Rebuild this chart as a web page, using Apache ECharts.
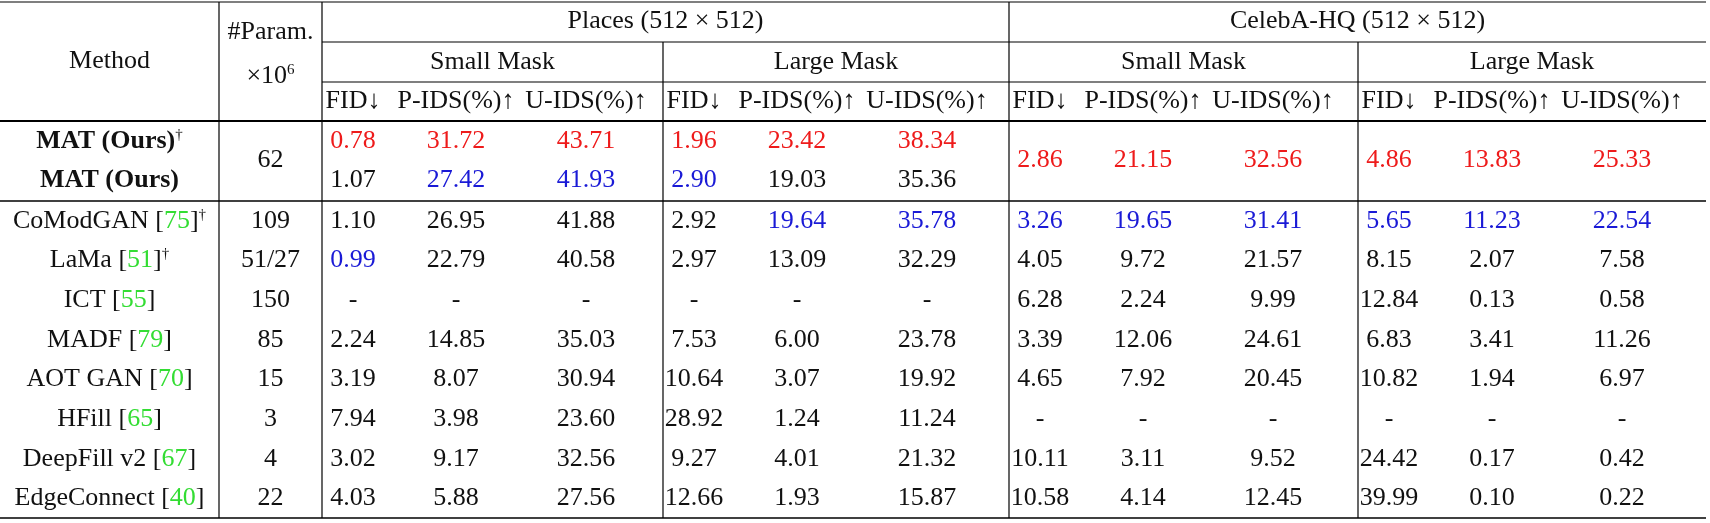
<!DOCTYPE html>
<html>
<head>
<meta charset="utf-8">
<script src="https://cdn.jsdelivr.net/npm/echarts@6/dist/echarts.min.js"></script>
<style>
  html, body { margin: 0; padding: 0; background: #fff; }
  #chart { width: 1710px; height: 523px; }
</style>
</head>
<body>
<div id="chart"></div>
<script>
// table data
const methods = ['MAT (Ours)', 'MAT (Ours)', 'CoModGAN', 'LaMa', 'ICT', 'MADF', 'AOT GAN', 'HFill', 'DeepFill v2', 'EdgeConnect'];
const refs = ['', '', '75', '51', '55', '79', '70', '65', '67', '40'];
const dagger = [true, false, true, true, false, false, false, false, false, false];
const params = ['62', '', '109', '51/27', '150', '85', '15', '3', '4', '22'];
const metrics = ['FID↓', 'P-IDS(%)↑', 'U-IDS(%)↑'];
const datasets = ['Places (512 × 512)', 'CelebA-HQ (512 × 512)'];
const masks = ['Small Mask', 'Large Mask'];

const placesSmall = [
  ['0.78', '31.72', '43.71'], ['1.07', '27.42', '41.93'], ['1.10', '26.95', '41.88'], ['0.99', '22.79', '40.58'],
  ['-', '-', '-'], ['2.24', '14.85', '35.03'], ['3.19', '8.07', '30.94'], ['7.94', '3.98', '23.60'],
  ['3.02', '9.17', '32.56'], ['4.03', '5.88', '27.56']
];
const placesLarge = [
  ['1.96', '23.42', '38.34'], ['2.90', '19.03', '35.36'], ['2.92', '19.64', '35.78'], ['2.97', '13.09', '32.29'],
  ['-', '-', '-'], ['7.53', '6.00', '23.78'], ['10.64', '3.07', '19.92'], ['28.92', '1.24', '11.24'],
  ['9.27', '4.01', '21.32'], ['12.66', '1.93', '15.87']
];
const celebaSmall = [
  ['2.86', '21.15', '32.56'], null, ['3.26', '19.65', '31.41'], ['4.05', '9.72', '21.57'],
  ['6.28', '2.24', '9.99'], ['3.39', '12.06', '24.61'], ['4.65', '7.92', '20.45'], ['-', '-', '-'],
  ['10.11', '3.11', '9.52'], ['10.58', '4.14', '12.45']
];
const celebaLarge = [
  ['4.86', '13.83', '25.33'], null, ['5.65', '11.23', '22.54'], ['8.15', '2.07', '7.58'],
  ['12.84', '0.13', '0.58'], ['6.83', '3.41', '11.26'], ['10.82', '1.94', '6.97'], ['-', '-', '-'],
  ['24.42', '0.17', '0.42'], ['39.99', '0.10', '0.22']
];
// 1 = best (red), 2 = second (blue)
const rankPS = [[1,1,1],[0,2,2],[0,0,0],[2,0,0],[0,0,0],[0,0,0],[0,0,0],[0,0,0],[0,0,0],[0,0,0]];
const rankPL = [[1,1,1],[2,0,0],[0,2,2],[0,0,0],[0,0,0],[0,0,0],[0,0,0],[0,0,0],[0,0,0],[0,0,0]];
const rankCS = [[1,1,1],[0,0,0],[2,2,2],[0,0,0],[0,0,0],[0,0,0],[0,0,0],[0,0,0],[0,0,0],[0,0,0]];
const rankCL = [[1,1,1],[0,0,0],[2,2,2],[0,0,0],[0,0,0],[0,0,0],[0,0,0],[0,0,0],[0,0,0],[0,0,0]];

// layout
const FONT = '"Liberation Serif", "DejaVu Serif", serif';
const FS = 26;
const colX = [0, 219, 322, 663, 1009, 1358, 1706];
const subOff = [31, 134, 264];
const hY = [2, 42, 82, 121];
const rowY = [141, 180, 221, 260, 300, 340, 379, 419, 459, 498];
const midLine = 201, bottom = 518;
const colors = ['#111', '#ee1b1b', '#1a1ad6'];

const g = [];
function line(x1, y1, x2, y2, w) {
  g.push({ type: 'line', shape: { x1, y1, x2, y2 }, style: { stroke: '#000', lineWidth: w || 1.2 } });
}
function text(x, y, t, opt) {
  g.push({ type: 'text', x, y, style: Object.assign({
    text: t, font: FS + 'px ' + FONT, fill: '#111', align: 'center', verticalAlign: 'middle'
  }, opt || {}) });
}
const rich = {
  b: { fontFamily: FONT, fontSize: FS, fontWeight: 'bold', fill: '#111' },
  n: { fontFamily: FONT, fontSize: FS, fill: '#111' },
  g: { fontFamily: FONT, fontSize: FS, fill: '#33dd33' },
  s: { fontFamily: FONT, fontSize: 15, fill: '#111', verticalAlign: 'top', padding: [0, 0, 12, 0] }
};

// horizontal rules
line(0, hY[0], colX[6], hY[0]);
line(colX[2], hY[1], colX[6], hY[1]);
line(colX[2], hY[2], colX[6], hY[2]);
line(0, hY[3], colX[6], hY[3], 1.8);
line(0, midLine, colX[6], midLine, 1.5);
line(0, bottom, colX[6], bottom, 1.5);
// vertical rules
[1, 2, 4].forEach(i => line(colX[i], hY[0], colX[i], bottom));
line(colX[3], hY[1], colX[3], bottom);
line(colX[5], hY[1], colX[5], bottom);

// header
text(colX[1] / 2, 61, 'Method');
text((colX[1] + colX[2]) / 2, 32, '#Param.');
g.push({ type: 'text', x: (colX[1] + colX[2]) / 2, y: 76, style: {
  text: '{n|×10}{s|6}', rich, align: 'center', verticalAlign: 'middle' } });
text((colX[2] + colX[4]) / 2, 21, datasets[0]);
text((colX[4] + colX[6]) / 2, 21, datasets[1]);
[2, 3, 4, 5].forEach((c, k) => {
  text((colX[c] + colX[c + 1]) / 2, 62, masks[k % 2]);
  metrics.forEach((m, j) => text(colX[c] + subOff[j], 101, m));
});

// body
methods.forEach((m, i) => {
  let s = i < 2 ? '{b|' + m + '}' : '{n|' + m + ' [}{g|' + refs[i] + '}{n|]}';
  if (dagger[i]) s += '{s|†}';
  g.push({ type: 'text', x: colX[1] / 2, y: rowY[i], style: { text: s, rich, align: 'center', verticalAlign: 'middle' } });
  if (params[i]) text((colX[1] + colX[2]) / 2, i === 0 ? (rowY[0] + rowY[1]) / 2 : rowY[i], params[i]);
});
const blocks = [[placesSmall, rankPS, 2], [placesLarge, rankPL, 3], [celebaSmall, rankCS, 4], [celebaLarge, rankCL, 5]];
blocks.forEach(([vals, rank, c]) => {
  vals.forEach((row, i) => {
    if (!row) return;
    const merged = c >= 4 && i === 0;
    const y = merged ? (rowY[0] + rowY[1]) / 2 : rowY[i];
    row.forEach((v, j) => text(colX[c] + subOff[j], y, v, { fill: colors[rank[i][j]] }));
  });
});

const chart = echarts.init(document.getElementById('chart'));
chart.setOption({ backgroundColor: '#fff', animation: false, graphic: { elements: g } });
</script>
</body>
</html>
